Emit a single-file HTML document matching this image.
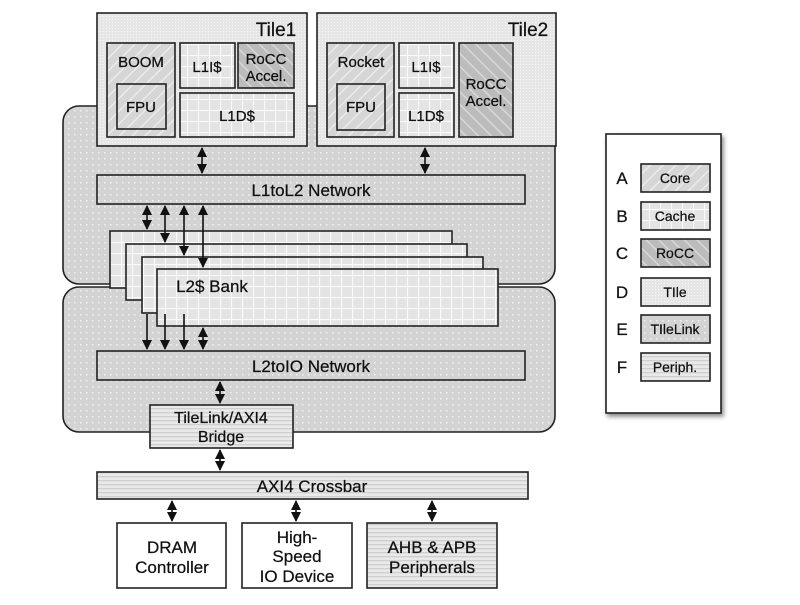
<!DOCTYPE html>
<html><head><meta charset="utf-8"><style>
html,body{margin:0;padding:0;background:#fff;}
svg text{font-family:"Liberation Sans",Arial,sans-serif;fill:#111;}
</style></head><body>
<svg width="800" height="600" viewBox="0 0 800 600" xmlns="http://www.w3.org/2000/svg">
<defs>
<pattern id="dotG" width="6" height="6" patternUnits="userSpaceOnUse"><rect width="6" height="6" fill="#d3d3d3"/><rect x="2" y="2" width="1.5" height="1.5" fill="#f2f2f2"/></pattern>
<pattern id="dotL" width="3" height="3" patternUnits="userSpaceOnUse"><rect width="3" height="3" fill="#e6e6e6"/><rect x="1" y="1" width="1" height="1" fill="#f7f7f7"/></pattern>
<pattern id="grid" width="11" height="11" patternUnits="userSpaceOnUse"><rect width="11" height="11" fill="#e4e4e4"/><path d="M0 0.5H11M0.5 0V11" stroke="#fafafa" stroke-width="1.2"/></pattern>
<pattern id="core" width="9" height="9" patternUnits="userSpaceOnUse" patternTransform="rotate(-45)"><rect width="9" height="9" fill="#d6d6d6"/><rect width="9" height="1.3" fill="#eeeeee"/></pattern>
<pattern id="rocc" width="9" height="9" patternUnits="userSpaceOnUse" patternTransform="rotate(45)"><rect width="9" height="9" fill="#bcbcbc"/><rect width="9" height="1.5" fill="#d8d8d8"/></pattern>
<pattern id="hstr" width="4" height="4" patternUnits="userSpaceOnUse"><rect width="4" height="4" fill="#e9e9e9"/><rect width="4" height="1.3" fill="#cfcfcf"/></pattern>
<marker id="ah" markerWidth="10" markerHeight="10" refX="9" refY="5" orient="auto-start-reverse" markerUnits="userSpaceOnUse"><path d="M0 0L10 5L0 10Z" fill="#111"/></marker>
<filter id="sh"><feDropShadow dx="2" dy="3" stdDeviation="2" flood-opacity="0.45"/></filter>
</defs>
<g stroke="#222" stroke-width="1.6">
<rect x="63" y="106" width="492" height="178" rx="16" fill="url(#dotG)"/>
<rect x="63" y="287" width="492" height="145" rx="16" fill="url(#dotG)"/>
<rect x="97" y="13" width="210" height="133" fill="url(#dotL)"/>
<rect x="317" y="13" width="239" height="133" fill="url(#dotL)"/>
<rect x="107" y="43" width="68" height="94" fill="url(#core)"/>
<rect x="117" y="84" width="49" height="45" fill="url(#core)"/>
<rect x="180" y="43" width="55" height="45" fill="url(#grid)"/>
<rect x="238" y="43" width="56" height="45" fill="url(#rocc)"/>
<rect x="180" y="93" width="114" height="44" fill="url(#grid)"/>
<rect x="327" y="43" width="67" height="94" fill="url(#core)"/>
<rect x="337" y="84" width="48" height="46" fill="url(#core)"/>
<rect x="399" y="43" width="55" height="45" fill="url(#grid)"/>
<rect x="399" y="93" width="55" height="44" fill="url(#grid)"/>
<rect x="459" y="43" width="54" height="94" fill="url(#rocc)"/>
<rect x="97" y="175" width="428" height="29" fill="url(#dotG)"/>
<rect x="97" y="351" width="428" height="29" fill="url(#dotG)"/>
<rect x="110" y="231" width="342" height="57" fill="url(#grid)"/>
<rect x="126" y="244" width="341" height="56" fill="url(#grid)"/>
<rect x="142" y="257" width="341" height="56" fill="url(#grid)"/>
<rect x="157" y="269" width="341" height="57" fill="url(#grid)"/>
<rect x="150" y="405" width="143" height="43" fill="url(#hstr)"/>
<rect x="97" y="472" width="431" height="27" fill="url(#hstr)"/>
<rect x="117" y="523" width="109" height="65" fill="#fff"/>
<rect x="242" y="523" width="110" height="65" fill="#fff"/>
<rect x="367" y="523" width="130" height="65" fill="url(#hstr)"/>
<rect x="606" y="134" width="115" height="279" fill="#fff" filter="url(#sh)"/>
<rect x="641" y="164" width="69" height="28" fill="url(#core)"/>
<rect x="641" y="202" width="69" height="28" fill="url(#grid)"/>
<rect x="641" y="239" width="69" height="28" fill="url(#rocc)"/>
<rect x="641" y="278" width="69" height="28" fill="url(#dotL)"/>
<rect x="641" y="315" width="69" height="28" fill="url(#dotG)"/>
<rect x="641" y="353" width="69" height="28" fill="url(#hstr)"/>
</g>
<g stroke="#111" stroke-width="1.6" marker-start="url(#ah)" marker-end="url(#ah)">
<line x1="202" y1="148" x2="202" y2="173"/>
<line x1="425" y1="148" x2="425" y2="173"/>
<line x1="147" y1="206" x2="147" y2="229"/>
<line x1="165" y1="206" x2="165" y2="242"/>
<line x1="184" y1="206" x2="184" y2="255"/>
<line x1="203" y1="206" x2="203" y2="267"/>
<line x1="203" y1="328" x2="203" y2="349"/>
<line x1="220" y1="382" x2="220" y2="403"/>
<line x1="220" y1="450" x2="220" y2="470"/>
<line x1="172" y1="501" x2="172" y2="521"/>
<line x1="296" y1="501" x2="296" y2="521"/>
<line x1="432" y1="501" x2="432" y2="521"/>
</g>
<g stroke="#111" stroke-width="1.6" marker-end="url(#ah)">
<line x1="147" y1="314" x2="147" y2="349"/>
<line x1="165" y1="314" x2="165" y2="349"/>
<line x1="184" y1="314" x2="184" y2="349"/>
</g>
<g font-size="15" text-anchor="middle" stroke="#111" stroke-width="0.25">
<text x="276" y="36" font-size="19">Tile1</text>
<text x="528" y="36" font-size="19">Tile2</text>
<text x="141" y="67">BOOM</text>
<text x="141" y="112">FPU</text>
<text x="207" y="72">L1I$</text>
<text x="266" y="64">RoCC</text>
<text x="266" y="81">Accel.</text>
<text x="237" y="121">L1D$</text>
<text x="361" y="67">Rocket</text>
<text x="361" y="112">FPU</text>
<text x="426" y="72">L1I$</text>
<text x="426" y="121">L1D$</text>
<text x="486" y="89">RoCC</text>
<text x="486" y="106">Accel.</text>
<text x="311" y="196" font-size="17">L1toL2 Network</text>
<text x="311" y="372" font-size="17">L2toIO Network</text>
<text x="212" y="292" font-size="17">L2$ Bank</text>
<text x="221" y="423" font-size="16">TileLink/AXI4</text>
<text x="221" y="442" font-size="16">Bridge</text>
<text x="312" y="492" font-size="17">AXI4 Crossbar</text>
<text x="172" y="553" font-size="17">DRAM</text>
<text x="172" y="573" font-size="17">Controller</text>
<text x="297" y="543" font-size="17">High-</text>
<text x="297" y="562" font-size="17">Speed</text>
<text x="297" y="582" font-size="17">IO Device</text>
<text x="432" y="553" font-size="17">AHB &amp; APB</text>
<text x="432" y="573" font-size="17">Peripherals</text>
<g font-size="14">
<text x="675" y="183">Core</text>
<text x="675" y="221">Cache</text>
<text x="675" y="258">RoCC</text>
<text x="675" y="297">TIle</text>
<text x="675" y="334">TIleLink</text>
<text x="675" y="372">Periph.</text>
</g>
<g font-size="17">
<text x="622" y="184">A</text>
<text x="622" y="222">B</text>
<text x="622" y="259">C</text>
<text x="622" y="298">D</text>
<text x="622" y="335">E</text>
<text x="622" y="373">F</text>
</g>
</g>
</svg>
</body></html>
